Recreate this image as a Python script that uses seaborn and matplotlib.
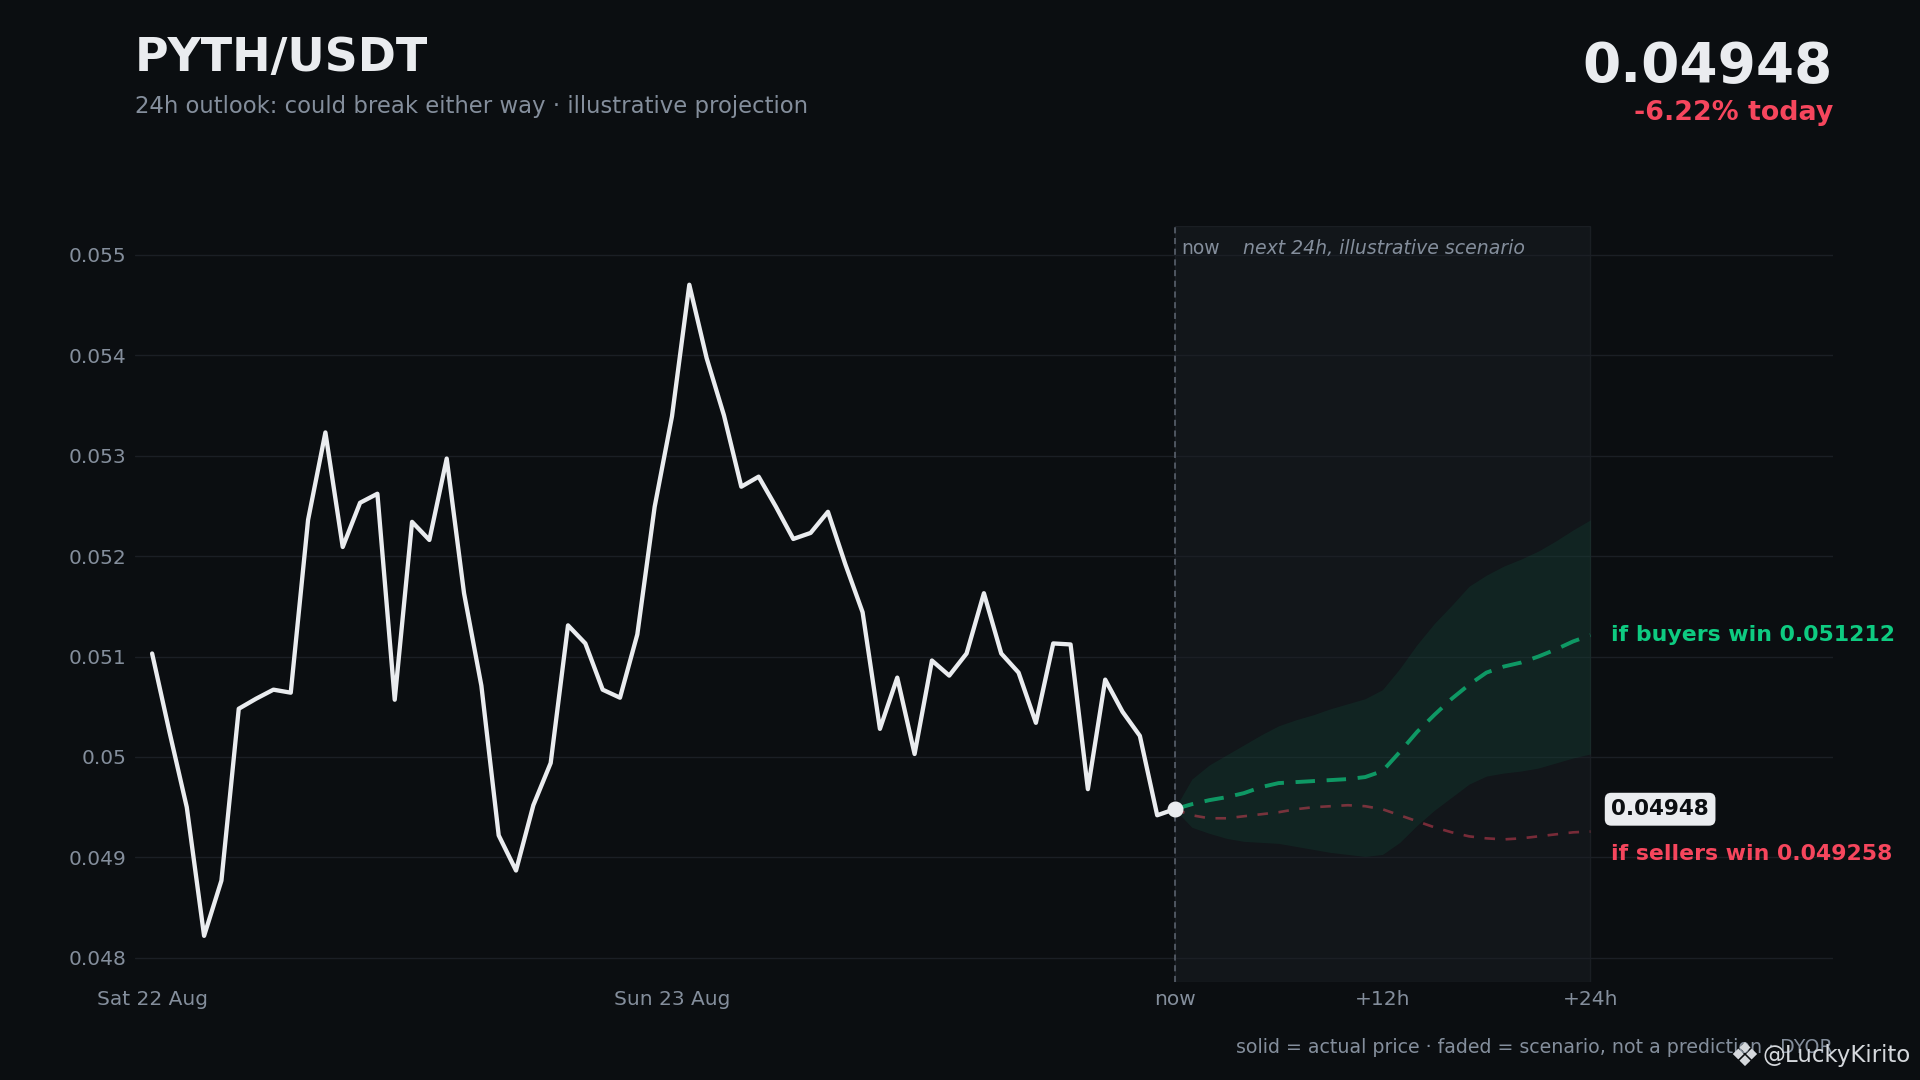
import numpy as np
import pandas as pd
import matplotlib
matplotlib.use('Agg')
import matplotlib.pyplot as plt
from matplotlib.ticker import FuncFormatter
import seaborn as sns

# hourly closes, oldest first; hour 0 = now
history_hours = np.arange(-59, 1)
history_price = [
    0.05103, 0.05025, 0.04950, 0.04822, 0.04877, 0.05048, 0.05058, 0.05067, 0.05064, 0.05236,
    0.05323, 0.05209, 0.05253, 0.05262, 0.05057, 0.05234, 0.05216, 0.05297, 0.05163, 0.05071,
    0.04922, 0.04887, 0.04952, 0.04994, 0.05131, 0.05113, 0.05067, 0.05059, 0.05122, 0.05249,
    0.05339, 0.05470, 0.05397, 0.05340, 0.05269, 0.05279, 0.05249, 0.05217, 0.05223, 0.05244,
    0.05192, 0.05144, 0.05028, 0.05079, 0.05003, 0.05096, 0.05081, 0.05103, 0.05163, 0.05103,
    0.05084, 0.05034, 0.05113, 0.05112, 0.04968, 0.05077, 0.05045, 0.05021, 0.04942, 0.04948,
]

# scenario paths for the next 24h
future_hours = np.arange(0, 25)
buyers_path = [
    0.04948, 0.04953, 0.04957, 0.04960, 0.04964, 0.04970, 0.04974, 0.04975, 0.04976, 0.04977,
    0.04978, 0.04980, 0.04986, 0.05005, 0.05025, 0.05042, 0.05058, 0.05072, 0.05084, 0.05090,
    0.05094, 0.05100, 0.05107, 0.05115, 0.051212,
]
sellers_path = [
    0.04948, 0.04942, 0.04939, 0.04939, 0.04941, 0.04943, 0.04945, 0.04948, 0.04950, 0.04951,
    0.04952, 0.04951, 0.04948, 0.04942, 0.04936, 0.04930, 0.04925, 0.04921, 0.04919, 0.04918,
    0.04919, 0.04921, 0.04923, 0.04925, 0.049258,
]
band_upper = [
    0.04948, 0.04978, 0.04992, 0.05002, 0.05012, 0.05022, 0.05031, 0.05037, 0.05042, 0.05048,
    0.05053, 0.05058, 0.05067, 0.05088, 0.05112, 0.05133, 0.05151, 0.05170, 0.05181, 0.05190,
    0.05197, 0.05205, 0.05215, 0.05226, 0.05236,
]
band_lower = [
    0.04948, 0.04930, 0.04924, 0.04919, 0.04916, 0.04915, 0.04914, 0.04911, 0.04908, 0.04905,
    0.04903, 0.04901, 0.04903, 0.04915, 0.04932, 0.04947, 0.04960, 0.04973, 0.04981, 0.04984,
    0.04986, 0.04989, 0.04994, 0.04999, 0.05003,
]

x_tick_pos = [-59, -29, 0, 12, 24]
x_tick_labels = ['Sat 22 Aug', 'Sun 23 Aug', 'now', '+12h', '+24h']
y_ticks = [0.048, 0.049, 0.050, 0.051, 0.052, 0.053, 0.054, 0.055]

last_price = 0.04948
change_today = -6.22
buyers_target = 0.051212
sellers_target = 0.049258

BG = '#0b0e11'
PANEL = '#12161a'
GRID = '#1b1f25'
MUTED = '#848e9c'
TEXT = '#eaecef'
GREEN = '#0ecb81'
RED = '#f6465d'

sns.set_theme(style='dark', rc={
    'figure.facecolor': BG,
    'axes.facecolor': BG,
    'savefig.facecolor': BG,
    'text.color': TEXT,
    'xtick.color': MUTED,
    'ytick.color': MUTED,
})
plt.rcParams['font.family'] = ['DejaVu Sans']

hist = pd.DataFrame({'hour': history_hours, 'price': history_price})
fut = pd.DataFrame({'hour': future_hours, 'buyers': buyers_path, 'sellers': sellers_path,
                    'upper': band_upper, 'lower': band_lower})

fig = plt.figure(figsize=(19.2, 10.8), dpi=100)
ax = fig.add_axes([0.0702, 0.0907, 0.8845, 0.6996])

# future window
ax.axvspan(0, 24, facecolor=PANEL, edgecolor='#1a1e23', linewidth=1, zorder=0)
ax.fill_between(fut['hour'], fut['lower'], fut['upper'], color=GREEN, alpha=0.08,
                linewidth=0, zorder=1)
ax.axvline(0, color='#5e6673', linewidth=1.1, linestyle=(0, (4, 3)), zorder=2)

sns.lineplot(data=fut, x='hour', y='sellers', ax=ax, color=RED, alpha=0.45,
             linewidth=1.9, linestyle=(0, (4, 4)), errorbar=None, zorder=3)
sns.lineplot(data=fut, x='hour', y='buyers', ax=ax, color=GREEN, alpha=0.7,
             linewidth=2.8, linestyle=(0, (5, 3)), errorbar=None, zorder=3)
sns.lineplot(data=hist, x='hour', y='price', ax=ax, color=TEXT, linewidth=3.1,
             errorbar=None, zorder=4)
ax.plot([history_hours[-1]], [last_price], 'o', color=TEXT, markersize=10.5, zorder=5)

ax.set_xlim(-60, 38)
ax.set_ylim(0.04776, 0.05528)
ax.set_xticks(x_tick_pos)
ax.set_xticklabels(x_tick_labels)
ax.set_yticks(y_ticks)
ax.yaxis.set_major_formatter(FuncFormatter(lambda v, _: f'{v:g}'))
ax.tick_params(axis='both', length=0, labelsize=14.5)
ax.tick_params(axis='x', pad=6)
ax.tick_params(axis='y', pad=6)
ax.set_xlabel('')
ax.set_ylabel('')
ax.grid(axis='y', color=GRID, linewidth=1)
ax.grid(axis='x', visible=False)
for s in ax.spines.values():
    s.set_visible(False)

# window captions
ax.annotate('now', xy=(0, 1), xycoords=('data', 'axes fraction'), xytext=(5, -15.5),
            textcoords='offset points', color=MUTED, fontsize=13.5, va='center', ha='left')
ax.annotate('next 24h, illustrative scenario', xy=(0, 1), xycoords=('data', 'axes fraction'),
            xytext=(49, -15.5), textcoords='offset points', color=MUTED, fontsize=13.6,
            style='italic', va='center', ha='left')

# scenario end labels
ax.annotate(f'if buyers win {buyers_target}', xy=(24, buyers_target), xytext=(15, 0),
            textcoords='offset points', color=GREEN, fontsize=15.8, fontweight='bold',
            va='center', ha='left')
ax.annotate(f'if sellers win {sellers_target}', xy=(24, sellers_target), xytext=(15, -16),
            textcoords='offset points', color=RED, fontsize=15.8, fontweight='bold',
            va='center', ha='left')
ax.annotate(f'{last_price}', xy=(24, last_price), xytext=(15, 0),
            textcoords='offset points', color=BG, fontsize=15.5, fontweight='bold',
            va='center', ha='left',
            bbox=dict(boxstyle='round,pad=0.3,rounding_size=0.3', facecolor=TEXT,
                      edgecolor='none'))

# header
fig.text(0.0702, 0.9345, 'PYTH/USDT', fontsize=33, fontweight='bold', color=TEXT,
         ha='left', va='baseline')
fig.text(0.0702, 0.8957, '24h outlook: could break either way · illustrative projection',
         fontsize=16.4, color=MUTED, ha='left', va='baseline')
fig.text(0.9547, 0.9244, f'{last_price}', fontsize=39.5, fontweight='bold', color=TEXT,
         ha='right', va='baseline')
fig.text(0.9547, 0.8889, f'{change_today:.2f}% today', fontsize=19.4, fontweight='bold',
         color=RED, ha='right', va='baseline')

# footer + watermark (they overlap in the original too)
fig.text(0.9547, 0.025, 'solid = actual price · faded = scenario, not a prediction · DYOR',
         fontsize=13.7, color=MUTED, ha='right', va='baseline')
fig.text(0.9163, 0.0215, '❖', fontsize=24, color='#d5d8dc', ha='right', va='center')
fig.text(0.9953, 0.0231, '@LuckyKirito', fontsize=16.5, color='#d5d8dc',
         ha='right', va='center')

fig.savefig('out.png', dpi=100, facecolor=BG)
